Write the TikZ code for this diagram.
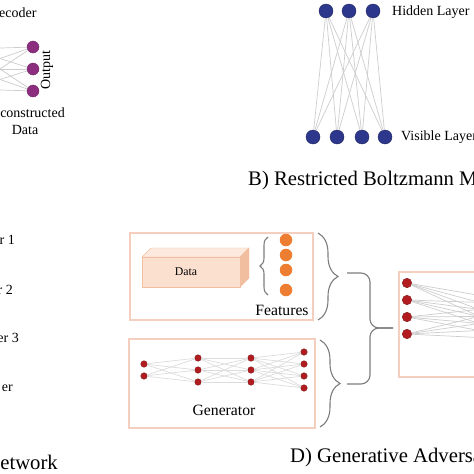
\documentclass[tikz,border=0pt]{standalone}
\usepackage{fontspec}
\setmainfont{Liberation Serif}
\usetikzlibrary{decorations.pathreplacing}
\definecolor{aepurple}{RGB}{140,45,125}
\definecolor{rbmblue}{RGB}{45,55,140}
\definecolor{ganred}{RGB}{178,28,32}
\definecolor{featorange}{RGB}{237,125,49}
\definecolor{peach}{RGB}{244,206,190}
\definecolor{cubefront}{RGB}{251,224,208}
\definecolor{cubetop}{RGB}{252,234,222}
\definecolor{cubeside}{RGB}{242,190,160}
\definecolor{wirecol}{RGB}{205,205,205}
\definecolor{bracecol}{RGB}{125,125,125}
\begin{document}
\begin{tikzpicture}[
    x=1pt, y=-1pt,
    lbl/.style={inner sep=0pt, font=\fontsize{14}{16}\selectfont},
    ttl/.style={inner sep=0pt, font=\fontsize{20.7}{24}\selectfont},
    outn/.style={circle, fill=aepurple, draw=aepurple!80!black, minimum size=12pt, inner sep=0pt},
    rbmn/.style={circle, fill=rbmblue, draw=rbmblue!70!black, minimum size=14pt, inner sep=0pt},
    gann/.style={circle, fill=ganred, draw=ganred!70!black, inner sep=0pt},
    featn/.style={circle, fill=featorange, minimum size=12.5pt, inner sep=0pt},
    wire/.style={draw=wirecol, line width=0.7pt},
    box/.style={draw=peach, line width=1.2pt, inner sep=0pt},
    brc/.style={draw=bracecol, line width=1.1pt, decorate, decoration={brace, amplitude=20pt}},
    brcline/.style={draw=bracecol, line width=1.1pt, rounded corners=9pt}
    ]
\path[use as bounding box, clip] (0,0) rectangle (474,474);

% A) autoencoder, decoder side
\node[lbl, anchor=west] (dec) at (-1,13) {ecoder};
\foreach \y [count=\i] in {47,69,91}{
  \coordinate (ah\i) at (-30,{\y+2*(2-\i)});
  \node[outn] (o\i) at (33,\y) {};
}
\foreach \i in {1,...,3}
  \foreach \j in {1,...,3}
    \draw[wire] (ah\i) -- (o\j);
\node[lbl, rotate=90] (outlbl) at (47,70) {Output};
\node[lbl, anchor=east] (recon) at (65,113) {constructed};
\node[lbl] (recdata) at (25,130) {Data};

% B) RBM
\foreach \x [count=\i] in {326,349,373}
  \node[rbmn] (h\i) at (\x,11) {};
\foreach \x [count=\i] in {313,337,362,385}
  \node[rbmn] (v\i) at (\x,137) {};
\foreach \i in {1,...,3}
  \foreach \j in {1,...,4}
    \draw[wire] (h\i) -- (v\j);
\node[lbl, anchor=west] (hidlbl) at (392,12) {Hidden Layer};
\node[lbl, anchor=west] (vislbl) at (401,137) {Visible Layer};
\node[ttl, anchor=west] (btitle) at (248,181) {B) Restricted Boltzmann M};

% C) network labels
\node[lbl, anchor=east] (l1) at (15,240) {r 1};
\node[lbl, anchor=east] (l2) at (13,290) {r 2};
\node[lbl, anchor=east] (l3) at (19,338) {er 3};
\node[lbl, anchor=east] (l4) at (13,388) {er};
\node[ttl, anchor=east] (ctitle) at (58,462) {etwork};

% D) GAN
\node[box, minimum width=183pt, minimum height=87pt] (feat) at (221.5,276.5) {};
\node[box, minimum width=186pt, minimum height=89pt] (gen) at (222,383.5) {};
\node[box, minimum width=100pt, minimum height=105pt] (disc) at (449,324.5) {};

% data cuboid
\filldraw[fill=cubetop, draw=cubeside] (142,257) -- (151,248) -- (249,248) -- (240,257) -- cycle;
\filldraw[fill=cubeside, draw=cubeside] (240,257) -- (249,248) -- (249,278) -- (240,287) -- cycle;
\filldraw[fill=cubefront, draw=cubeside] (142,257) rectangle (240,287);
\node[inner sep=0pt, font=\fontsize{11.8}{13}\selectfont] (data) at (186,272) {Data};
\draw[brc, decoration={brace, amplitude=8pt}] (268,295) -- (268,237);
\foreach \y [count=\i] in {240,255,270,290}
  \node[featn] (f\i) at (286,\y) {};
\node[inner sep=0pt, font=\fontsize{15.7}{18}\selectfont] (featlbl) at (282,310) {Features};

% generator
\foreach \y [count=\i] in {364,376}
  \node[gann, minimum size=6.5pt] (ga\i) at (144,\y) {};
\foreach \y [count=\i] in {358,370,382}{
  \node[gann, minimum size=6.5pt] (gb\i) at (198,\y) {};
  \node[gann, minimum size=6.5pt] (gc\i) at (251,\y) {};
}
\foreach \y [count=\i] in {352,364,376,388}
  \node[gann, minimum size=6.5pt] (gd\i) at (304,\y) {};
\foreach \i in {1,2}
  \foreach \j in {1,...,3}
    \draw[wire, draw=wirecol!70] (ga\i) -- (gb\j);
\foreach \i in {1,...,3}
  \foreach \j in {1,...,3}
    \draw[wire, draw=wirecol!70] (gb\i) -- (gc\j);
\foreach \i in {1,...,3}
  \foreach \j in {1,...,4}
    \draw[wire, draw=wirecol!70] (gc\i) -- (gd\j);
\node[inner sep=0pt, font=\fontsize{15.7}{18}\selectfont] (genlbl) at (224,410) {Generator};

% discriminator
\foreach \y [count=\i] in {283,300,317,334}{
  \node[gann, minimum size=9.5pt] (d\i) at (407,\y) {};
  \coordinate (dh\i) at (530,{292+12*\i});
}
\foreach \i in {1,...,4}
  \foreach \j in {1,...,4}
    \draw[wire] (d\i) -- (dh\j);

% braces
\draw[brc] (318,233) -- (318,320);
\draw[brc] (320,340) -- (320,427);
\draw[brcline] (347,273) -- (370,273) -- (370,328) -- (393,328);
\draw[brcline] (347,384) -- (370,384) -- (370,328) -- (393,328);

\node[ttl, anchor=west] (dtitle) at (290,458) {D) Generative Adversa};
\end{tikzpicture}
\end{document}
